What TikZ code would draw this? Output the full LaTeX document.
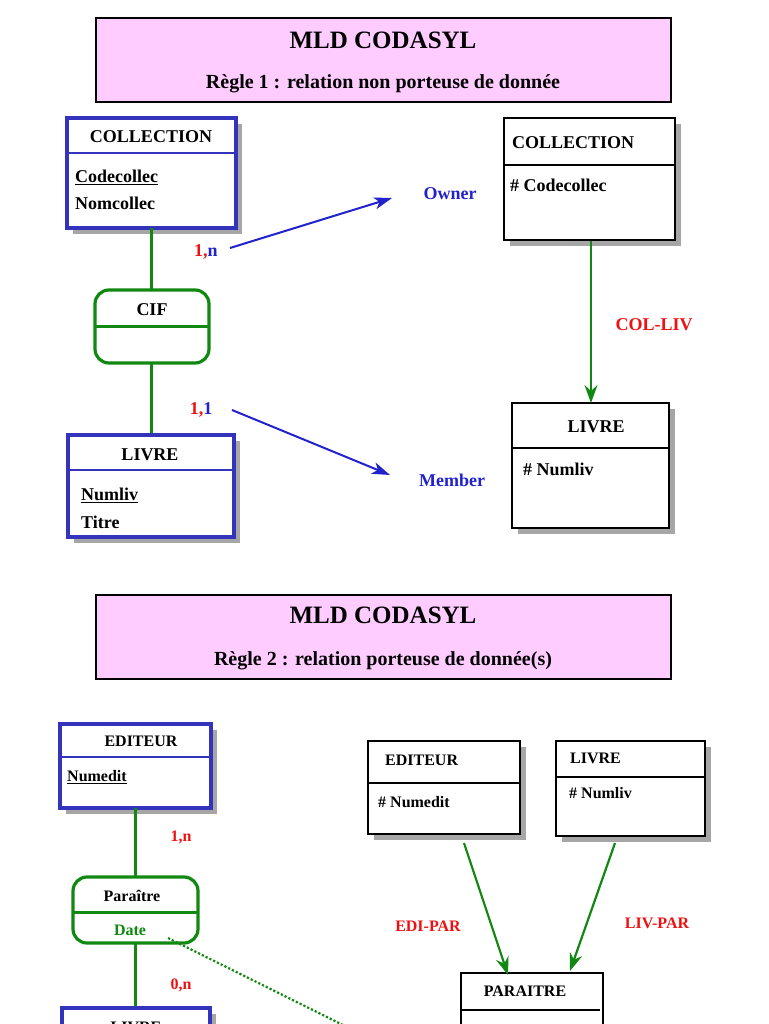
\documentclass[tikz,border=0pt]{standalone}
\usepackage{fontspec}
\setmainfont{Liberation Serif}
\usetikzlibrary{arrows.meta}
\definecolor{pinkbg}{HTML}{FFCCFF}
\definecolor{ent}{HTML}{3333BB}
\definecolor{grn}{HTML}{118811}
\definecolor{rd}{HTML}{EE1111}
\definecolor{bl}{HTML}{2222CC}
\begin{document}
\begin{tikzpicture}[x=1pt,y=-1pt,
  every node/.style={font=\bfseries\fontsize{18}{20}\selectfont,inner sep=0pt},
  ttl/.style={draw=black,line width=1.6pt,fill=pinkbg},
  shadow/.style={fill=gray!70,draw=none},
  bent/.style={draw=ent,line width=3.2pt,fill=white},
  bdiv/.style={draw=ent,line width=1.8pt},
  kent/.style={draw=black,line width=1.4pt,fill=white},
  assoc/.style={draw=grn,line width=3.2pt,fill=white,rounded corners=14pt},
  gl/.style={draw=grn,line width=3pt},
  garr/.style={draw=grn,line width=2.2pt,-{Stealth[length=18pt,width=13pt,inset=6pt]}},
  barr/.style={draw=bl,line width=2pt,-{Stealth[length=18pt,width=12pt,inset=5pt]}},
  red/.style={text=rd},
  blu/.style={text=bl}]
\useasboundingbox (0,0) rectangle (768,1024);
\clip (0,0) rectangle (768,1024);
% ---------- Rule 1
\draw[ttl] (96,18) rectangle (671,102);
\node (t1) at (383,40) {\fontsize{25}{27}\selectfont MLD CODASYL};
\node (s1) at (383,84) {\fontsize{20}{22}\selectfont Règle 1 : relation non porteuse de donnée};
% left collection
\fill[shadow] (73,124) rectangle (242,234);
\draw[bent] (67,118) rectangle (236,228);
\draw[bdiv] (67,153) -- (236,153);
\node (cola) at (151,137) {COLLECTION};
\node[anchor=west] (ccode) at (75,177) {\underline{Codecollec}};
\node[anchor=west] (cnom) at (75,203) {Nomcollec};
\coordinate (cbot) at (151,228);
\coordinate (lt) at (151,435);
% CIF
\draw[assoc] (95,290) rectangle (209,363);
\draw[gl] (95,326) -- (209,326);
\node (cif) at (152,310) {CIF};
\draw[gl] (cbot) -- (151,290);
\draw[gl] (151,363) -- (lt);
% left livre
\fill[shadow] (74,441) rectangle (240,543);
\draw[bent] (68,435) rectangle (234,537);
\draw[bdiv] (68,470) -- (234,470);
\node (la) at (150,455) {LIVRE};
\node[anchor=west] (lnum) at (81,495) {\underline{Numliv}};
\node[anchor=west] (ltit) at (81,522) {Titre};
% cardinalities
\node (c1n) at (206,252) {\textcolor{rd}{1,}\textcolor{bl}{n}};
\node (c11) at (201,410) {\textcolor{rd}{1,}\textcolor{bl}{1}};
\node[blu] (owner) at (450,194) {Owner};
\node[blu] (member) at (452,480) {Member};
\coordinate (o1) at (230,248);
\coordinate (o2) at (392,198);
\coordinate (m1) at (232,410);
\coordinate (m2) at (390,475);
\draw[barr] (o1) -- (o2);
\draw[barr] (m1) -- (m2);
% right collection
\fill[shadow] (510,124) rectangle (681,246);
\draw[kent] (504,118) rectangle (675,240);
\draw[line width=1.4pt] (504,165) -- (675,165);
\node[anchor=west] (colb) at (512,143) {COLLECTION};
\node[anchor=west] (ccb) at (510,185) {\# Codecollec};
% right livre
\fill[shadow] (518,409) rectangle (675,534);
\draw[kent] (512,403) rectangle (669,528);
\draw[line width=1.4pt] (512,448) -- (669,448);
\node (lb) at (596,427) {LIVRE};
\node[anchor=west] (lnb) at (523,469) {\# Numliv};
\coordinate (cbB) at (591,241);
\coordinate (ltB) at (591,403);
\draw[garr] (cbB) -- (ltB);
\node[red] (colliv) at (654,325) {COL-LIV};
% ---------- Rule 2
\draw[ttl] (96,595) rectangle (671,679);
\node (t2) at (383,615) {\fontsize{25}{27}\selectfont MLD CODASYL};
\node (s2) at (383,661) {\fontsize{20}{22}\selectfont Règle 2 : relation porteuse de donnée(s)};
% left editeur
\fill[shadow] (66,730) rectangle (217,814);
\draw[bent] (60,724) rectangle (211,808);
\draw[bdiv] (60,757) -- (211,757);
\node (eda) at (141,741) {\fontsize{16}{18}\selectfont EDITEUR};
\node[anchor=west] (edn) at (67,777) {\fontsize{16}{18}\selectfont\underline{Numedit}};
% paraitre assoc
\draw[assoc] (73,877) rectangle (198,943);
\draw[gl] (73,912) -- (198,912);
\node (par) at (132,896) {\fontsize{16}{18}\selectfont Paraître};
\node[text=grn] (date) at (130,930) {\fontsize{16}{18}\selectfont Date};
\draw[gl] (135,808) -- (135,877);
\draw[gl] (135,943) -- (135,1008);
\node[red] (p1n) at (181,837) {\fontsize{16}{18}\selectfont 1,n};
\node[red] (p0n) at (181,985) {\fontsize{16}{18}\selectfont 0,n};
% left livre (cut)
\fill[shadow] (68,1014) rectangle (216,1040);
\draw[bent] (62,1008) rectangle (210,1040);
\node (lc) at (136,1027) {\fontsize{16}{18}\selectfont LIVRE};
\coordinate (dend) at (345,1026);
\draw[grn,line width=2.2pt,dotted] (168,938) -- (dend);
% right editeur
\fill[shadow] (374,747) rectangle (526,840);
\draw[kent] (368,741) rectangle (520,834);
\draw[line width=2pt] (368,783) -- (520,783);
\node[anchor=west] (edb) at (385,760) {\fontsize{16}{18}\selectfont EDITEUR};
\node[anchor=west] (edbn) at (378,802) {\fontsize{16}{18}\selectfont\# Numedit};
% right livre
\fill[shadow] (562,747) rectangle (711,842);
\draw[kent] (556,741) rectangle (705,836);
\draw[line width=1.4pt] (556,777) -- (705,777);
\node[anchor=west] (lvb) at (570,758) {\fontsize{16}{18}\selectfont LIVRE};
\node[anchor=west] (lvbn) at (569,793) {\fontsize{16}{18}\selectfont\# Numliv};
% paraitre box
\draw[kent] (461,973) rectangle (603,1040);
\draw[line width=1.4pt] (461,1010) -- (600,1010);
\node (parb) at (525,991) {\fontsize{16}{18}\selectfont PARAITRE};
\coordinate (e1) at (464,843);
\coordinate (e2) at (508,975);
\coordinate (f1) at (615,843);
\coordinate (f2) at (570,971);
\draw[garr] (e1) -- (e2);
\draw[garr] (f1) -- (f2);
\node[red] (edipar) at (428,926) {\fontsize{16}{18}\selectfont EDI-PAR};
\node[red] (livpar) at (657,923) {\fontsize{16}{18}\selectfont LIV-PAR};
\end{tikzpicture}
\end{document}
